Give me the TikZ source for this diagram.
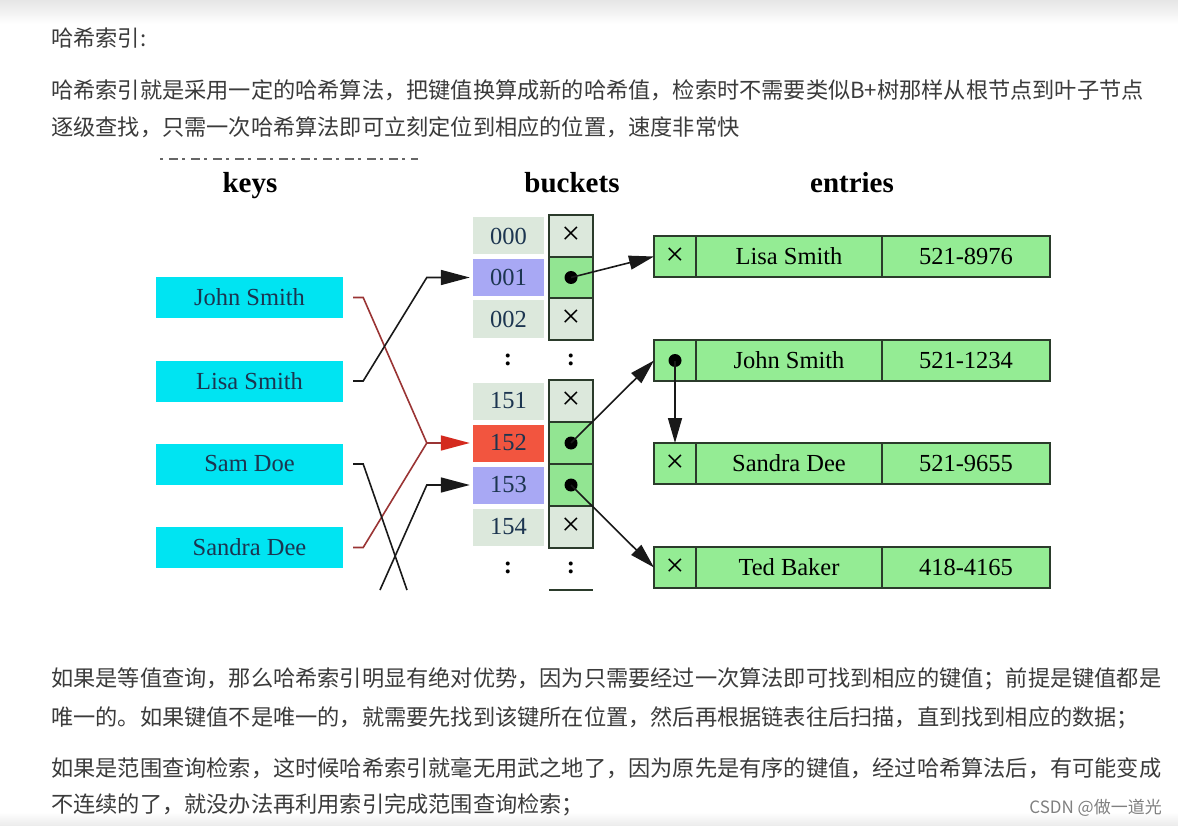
\documentclass[tikz,border=0pt]{standalone}
\usepackage{fontspec}
\setmainfont{Liberation Serif}
\newfontfamily\cjk{Noto Sans CJK SC}
\usepackage{xcolor}
\usetikzlibrary{arrows.meta,positioning,calc}

\definecolor{keycyan}{HTML}{00E4F2}
\definecolor{keytext}{HTML}{1C3550}
\definecolor{cellgray}{HTML}{DCE8DC}
\definecolor{cellblue}{HTML}{A8A8F4}
\definecolor{cellred}{HTML}{F2553F}
\definecolor{ptrgreen}{HTML}{92E592}
\definecolor{entgreen}{HTML}{94EC94}
\definecolor{edge}{HTML}{2B3B2B}
\definecolor{hashred}{HTML}{9A3434}
\definecolor{tipred}{HTML}{D42A1E}
\definecolor{bodytext}{HTML}{3B3B3B}
\newcommand\celltext{\fontsize{24.5}{28}\selectfont}
\newcommand\nullmark{{\fontsize{33}{33}\selectfont ×}}

\begin{document}
\begin{tikzpicture}[x=1pt, y=-1pt,
  body/.style={anchor=west, inner sep=0pt, text=bodytext, font=\cjk\fontsize{22.2}{26}\selectfont},
  head/.style={anchor=base, inner sep=0pt, font=\fontsize{29}{32}\selectfont\bfseries},
  keybox/.style={fill=keycyan, minimum width=187pt, minimum height=41pt, inner sep=0pt, text=keytext, font=\celltext},
  numcell/.style={fill=cellgray, minimum width=71pt, minimum height=37pt, inner sep=0pt, text=keytext, font=\celltext},
  ptrcell/.style={draw=edge, line width=1.6pt, minimum width=44pt, minimum height=41.5pt, inner sep=0pt, font=\celltext},
  entcell/.style={draw=edge, line width=1.5pt, fill=entgreen, minimum height=41pt, inner sep=0pt, outer sep=0pt, font=\celltext},
  keyline/.style={line width=1.6pt, black!90},
  hashline/.style={keyline, shorten >=3pt, -{Triangle[length=29pt,width=15pt]}},
  ptrline/.style={line width=1.6pt, black!90, -{Triangle[length=25pt,width=14pt]}},
]
\useasboundingbox (0,0) rectangle (1178,826);
\fill[white] (0,0) rectangle (1178,826);
\shade[top color=black!10, bottom color=white] (0,0) rectangle (1178,24);
\shade[top color=white, bottom color=black!8] (0,812) rectangle (1178,826);

% text above the figure
\node[body] (title) at (51,38) {哈希索引:};
\node[body] (p1a) at (51,90) {哈希索引就是采用一定的哈希算法，把键值换算成新的哈希值，检索时不需要类似B+树那样从根节点到叶子节点};
\node[body] (p1b) at (51,127) {逐级查找，只需一次哈希算法即可立刻定位到相应的位置，速度非常快};
\draw[black!60, line width=2pt, dash pattern=on 3pt off 6pt on 9pt off 4pt] (160,159) -- (418,159);

% column heads
\node[head] (hkeys) at (250,193) {keys};
\node[head] (hbuckets) at (572,193) {buckets};
\node[head] (hentries) at (852,193) {entries};

% keys
\node[keybox] (kJohn) at (249.5,297.5) {John Smith};
\node[keybox] (kLisa) at (249.5,381) {Lisa Smith};
\node[keybox] (kSam) at (249.5,464) {Sam Doe};
\node[keybox] (kSandra) at (249.5,547.5) {Sandra Dee};

% buckets
\foreach \id/\y/\nfill/\pfill/\mk in {000/236/cellgray/cellgray/\nullmark, 001/277.5/cellblue/ptrgreen/, 002/319/cellgray/cellgray/\nullmark,
  151/401/cellgray/cellgray/\nullmark, 152/443/cellred/ptrgreen/, 153/485/cellblue/ptrgreen/, 154/527/cellgray/cellgray/\nullmark} {
  \node[numcell, fill=\nfill] (n\id) at (508.5,\y) {\id};
  \node[ptrcell, fill=\pfill] (p\id) at (571,\y) {\mk};
}
\foreach \id in {001,152,153} \fill (p\id) circle (6.5pt);
\node[font=\celltext\bfseries] (dn1) at (508,360) {:};
\node[font=\celltext\bfseries] (dp1) at (571,360) {:};
\node[font=\celltext\bfseries] (dn2) at (508,568) {:};
\node[font=\celltext\bfseries] (dp2) at (571,568) {:};
\draw[edge, line width=1.6pt] (549,590) -- (593,590);

% entries
\foreach \nm/\y/\mk/\who/\tel in {Lisa/256.5/\nullmark/Lisa Smith/521-8976, John/360.5//John Smith/521-1234,
  Sandra/463.5/\nullmark/Sandra Dee/521-9655, Ted/567.5/\nullmark/Ted Baker/418-4165} {
  \node[entcell, minimum width=42pt] (e\nm) at (675,\y) {\mk};
  \node[entcell, minimum width=186pt, right=0pt of e\nm] (e\nm name) {\who};
  \node[entcell, minimum width=168pt, right=0pt of e\nm name] (e\nm tel) {\tel};
}
\fill (eJohn) circle (6.5pt);

% hash function: keys to buckets
\coordinate (samEnd) at (407,590);
\coordinate (in153) at (380,590);
\draw[keyline, hashred] ([xshift=10pt]kSandra.east) -- ++(10,0) -- ([xshift=-46pt]n152.west);
\draw[keyline, hashred, shorten >=3pt, -{Triangle[length=29pt,width=15pt,color=tipred]}]
  ([xshift=10pt]kJohn.east) -- ++(10,0) -- ([xshift=-46pt]n152.west) -- (n152.west);
\draw[hashline] ([xshift=10pt]kLisa.east) -- ++(10,0) -- ([xshift=-46pt]n001.west) -- (n001.west);
\draw[keyline] ([xshift=10pt]kSam.east) -- ++(10,0) -- (samEnd);
\draw[hashline] (in153) -- ([xshift=-46pt]n153.west) -- (n153.west);

% bucket pointers
\draw[ptrline] (p001.center) -- (eLisa.west);
\draw[ptrline] (p152.center) -- (eJohn.west);
\draw[ptrline] (p153.center) -- (eTed.west);
\draw[ptrline] (eJohn.center) -- (eSandra.north);

% text below the figure
\node[body] (p2a) at (51,679) {如果是等值查询，那么哈希索引明显有绝对优势，因为只需要经过一次算法即可找到相应的键值；前提是键值都是};
\node[body] (p2b) at (51,718) {唯一的。如果键值不是唯一的，就需要先找到该键所在位置，然后再根据链表往后扫描，直到找到相应的数据；};
\node[body] (p3a) at (51,768) {如果是范围查询检索，这时候哈希索引就毫无用武之地了，因为原先是有序的键值，经过哈希算法后，有可能变成};
\node[body] (p3b) at (51,805) {不连续的了，就没办法再利用索引完成范围查询检索；};
\node[anchor=east, inner sep=0pt, text=black!50, font=\cjk\fontsize{17}{20}\selectfont] (mark) at (1162,808) {CSDN @做一道光};
\end{tikzpicture}
\end{document}
